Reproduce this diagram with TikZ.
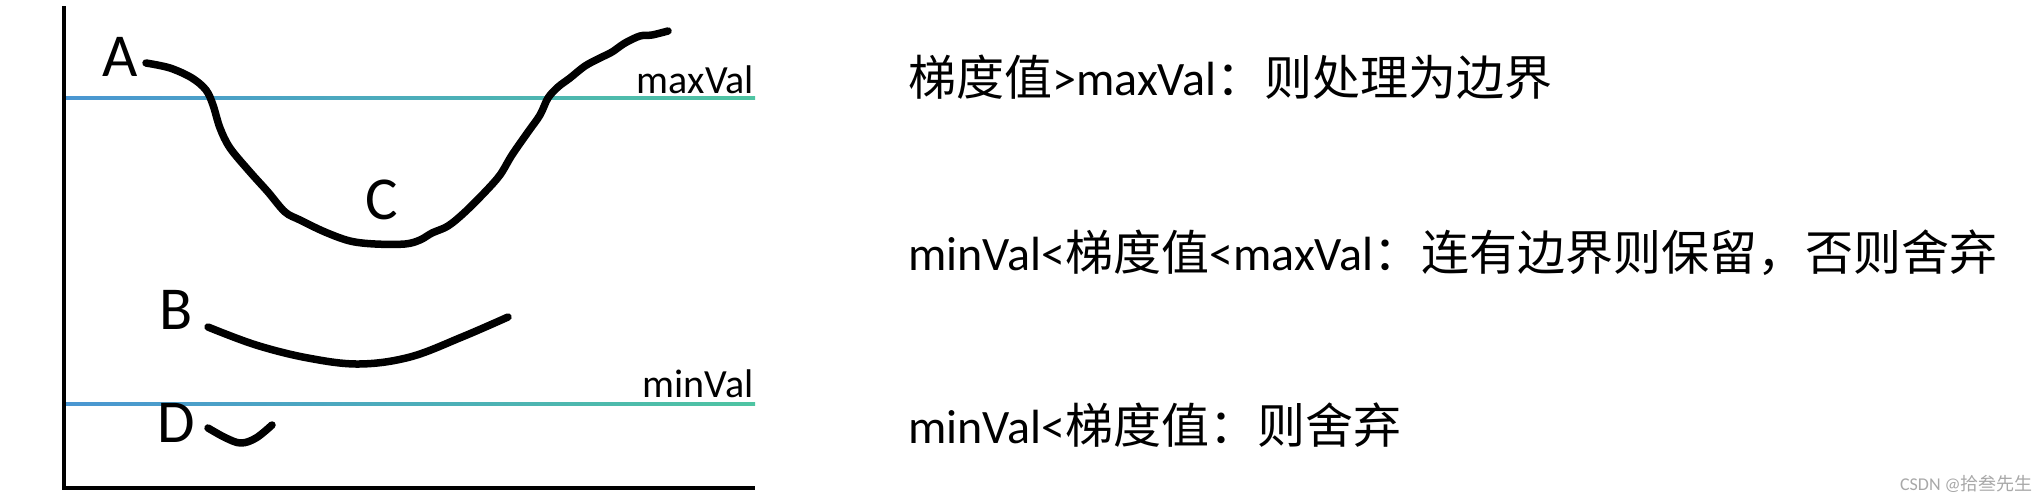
\documentclass[tikz,border=0pt]{standalone}
\usepackage{fontspec}
\setmainfont{Carlito}
\newfontfamily\cjk{Noto Sans CJK SC}
\definecolor{lineL}{HTML}{4A96D2}
\definecolor{lineR}{HTML}{4EC4A2}
\definecolor{wm}{HTML}{A8A8A8}
\tikzset{
  curve/.style={line width=7.5pt, line cap=round, line join=round},
  axisline/.style={line width=3.5pt},
  letter/.style={inner sep=0pt, font=\fontsize{61}{64}\selectfont},
  vallabel/.style={inner sep=0pt, anchor=base east, font=\fontsize{40}{44}\selectfont},
  desc/.style={inner sep=0pt, anchor=base west, font=\fontsize{48}{56}\selectfont},
}
\begin{document}
\begin{tikzpicture}[x=1pt,y=-1pt]
\useasboundingbox (0,0) rectangle (2039,501);
% threshold lines
\shade[left color=lineL, right color=lineR] (64,96.7) rectangle (755,99.3);
\shade[left color=lineL, right color=lineR] (64,402.7) rectangle (755,405.3);
% axes
\draw[axisline] (64,6) -- (64,488) -- (755,488);
% labels
\node[vallabel] (maxv) at (754,93) {maxVal};
\node[vallabel] (minv) at (754,397) {minVal};
\node[letter] (A) at (120,57) {A};
\node[letter] (B) at (176,310) {B};
\node[letter] (C) at (382,200) {C};
\node[letter] (D) at (176,423) {D};
% curves
\draw[curve] plot[smooth, tension=0.55] coordinates {
 (146,63) (170,68) (192,78) (206,90) (213,105) (220,128) (230,148) (250,172)
 (268,192) (285,212) (300,220) (325,232) (350,241) (375,244) (405,244) (420,240)
 (432,233) (448,226) (465,212) (485,192) (500,175) (512,155) (528,132) (540,115)
 (548,98) (558,87) (570,78) (585,66) (600,58) (612,52) (625,43) (640,36) (652,35) (668,31)};
\draw[curve] plot[smooth, tension=0.6] coordinates {
 (208,327) (256,345) (308,358) (359,364) (410,357) (462,337) (508,317)};
\draw[curve] plot[smooth, tension=0.6] coordinates {
 (208,428) (226,438) (241,443) (256,438) (272,425)};
% descriptions
\node[desc] (t1) at (908,95) {{\cjk 梯度值}>maxVal{\cjk ：则处理为边界}};
\node[desc] (t2) at (908,270) {minVal<{\cjk 梯度值}<maxVal{\cjk ：连有边界则保留，否则舍弃}};
\node[desc] (t3) at (908,443) {minVal<{\cjk 梯度值：则舍弃}};
% watermark
\node[inner sep=0pt, anchor=base east, text=wm, font=\fontsize{18}{20}\selectfont] (wmk) at (2033,490) {CSDN @{\cjk 拾叁先生}};
\end{tikzpicture}
\end{document}
